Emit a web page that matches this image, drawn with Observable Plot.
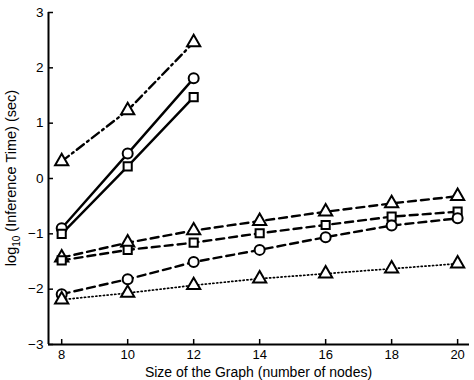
<!DOCTYPE html>
<html><head><meta charset="utf-8">
<script src="https://cdn.jsdelivr.net/npm/d3@7"></script>
<script src="https://cdn.jsdelivr.net/npm/@observablehq/plot@0.6"></script>
<style>body{margin:0;background:#fff;font-family:"Liberation Sans",Arial,sans-serif}</style>
</head><body><div id="chart"></div>
<script>
const xTicks = [8, 10, 12, 14, 16, 18, 20];
const yTicks = [-3, -2, -1, 0, 1, 2, 3];
const xShort = [8, 10, 12];
const xLong = [8, 10, 12, 14, 16, 18, 20];
const dashDotTri = [0.31, 1.23, 2.46];
const solidCirc = [-0.9, 0.45, 1.81];
const solidSq = [-1.0, 0.22, 1.47];
const dashTri = [-1.43, -1.16, -0.94, -0.77, -0.6, -0.45, -0.32];
const dashSq = [-1.48, -1.29, -1.16, -0.99, -0.84, -0.69, -0.6];
const dashCirc = [-2.09, -1.82, -1.51, -1.29, -1.06, -0.85, -0.72];
const dotTri = [-2.19, -2.07, -1.93, -1.81, -1.72, -1.63, -1.54];
const xLabel = "Size of the Graph (number of nodes)";

const series = [
  {xs: xShort, ys: dashDotTri, dash: "9,4,2,4", sym: "triangle", w: 2.4},
  {xs: xShort, ys: solidCirc, dash: null, sym: "circle", w: 2.4},
  {xs: xShort, ys: solidSq, dash: null, sym: "square", w: 2.4},
  {xs: xLong, ys: dashTri, dash: "8,5", sym: "triangle", w: 2.4},
  {xs: xLong, ys: dashSq, dash: "8,5", sym: "square", w: 2.4},
  {xs: xLong, ys: dashCirc, dash: "8,5", sym: "circle", w: 2.4},
  {xs: xLong, ys: dotTri, dash: "1.2,2.6", sym: "triangle", w: 1.7}
];

const marks = [];
for (const s of series) {
  const d = s.xs.map((x, i) => ({x, y: s.ys[i]}));
  marks.push(Plot.line(d, {x: "x", y: "y", stroke: "black", strokeWidth: s.w, strokeDasharray: s.dash}));
}
const rSym = {triangle: 4.9, circle: 5, square: 4.6};
for (const s of series) {
  const d = s.xs.map((x, i) => ({x, y: s.ys[i]}));
  marks.push(Plot.dot(d, {x: "x", y: "y", symbol: () => s.sym, r: rSym[s.sym], stroke: "black", strokeWidth: 2, fill: "white"}));
}
marks.push(Plot.ruleX([7.6], {stroke: "black", strokeWidth: 2}));
marks.push(Plot.ruleY([-3], {stroke: "black", strokeWidth: 2}));
marks.push(Plot.axisX({ticks: xTicks, tickFormat: d3.format("d"), tickSize: -5, tickPadding: 10, label: null, strokeWidth: 1.5, fontSize: 13}));
marks.push(Plot.axisY({ticks: yTicks, tickFormat: d3.format("d"), tickSize: -5, tickPadding: 10, label: null, strokeWidth: 1.5, fontSize: 13.5}));

const chart = Plot.plot({
  width: 474, height: 380,
  marginLeft: 48, marginTop: 12, marginBottom: 36, marginRight: 5,
  x: {domain: [7.6, 20.36]},
  y: {domain: [-3, 3]},
  style: {fontFamily: "Liberation Sans, Arial, sans-serif", fontSize: "13.5px", color: "black", background: "white"},
  marks
});
const svg = d3.select(chart);
svg.append("text")
  .attr("x", 258.5).attr("y", 377)
  .attr("text-anchor", "middle")
  .attr("font-size", 14).attr("fill", "black")
  .text(xLabel);
const t = svg.append("text")
  .attr("transform", "translate(16,178) rotate(-90)")
  .attr("text-anchor", "middle")
  .attr("font-size", 14.5).attr("fill", "black");
t.append("tspan").text("log");
t.append("tspan").attr("font-size", 10).attr("dy", 4).text("10");
t.append("tspan").attr("dy", -4).text(" (Inference Time) (sec)");
document.getElementById("chart").appendChild(chart);
</script></body></html>
